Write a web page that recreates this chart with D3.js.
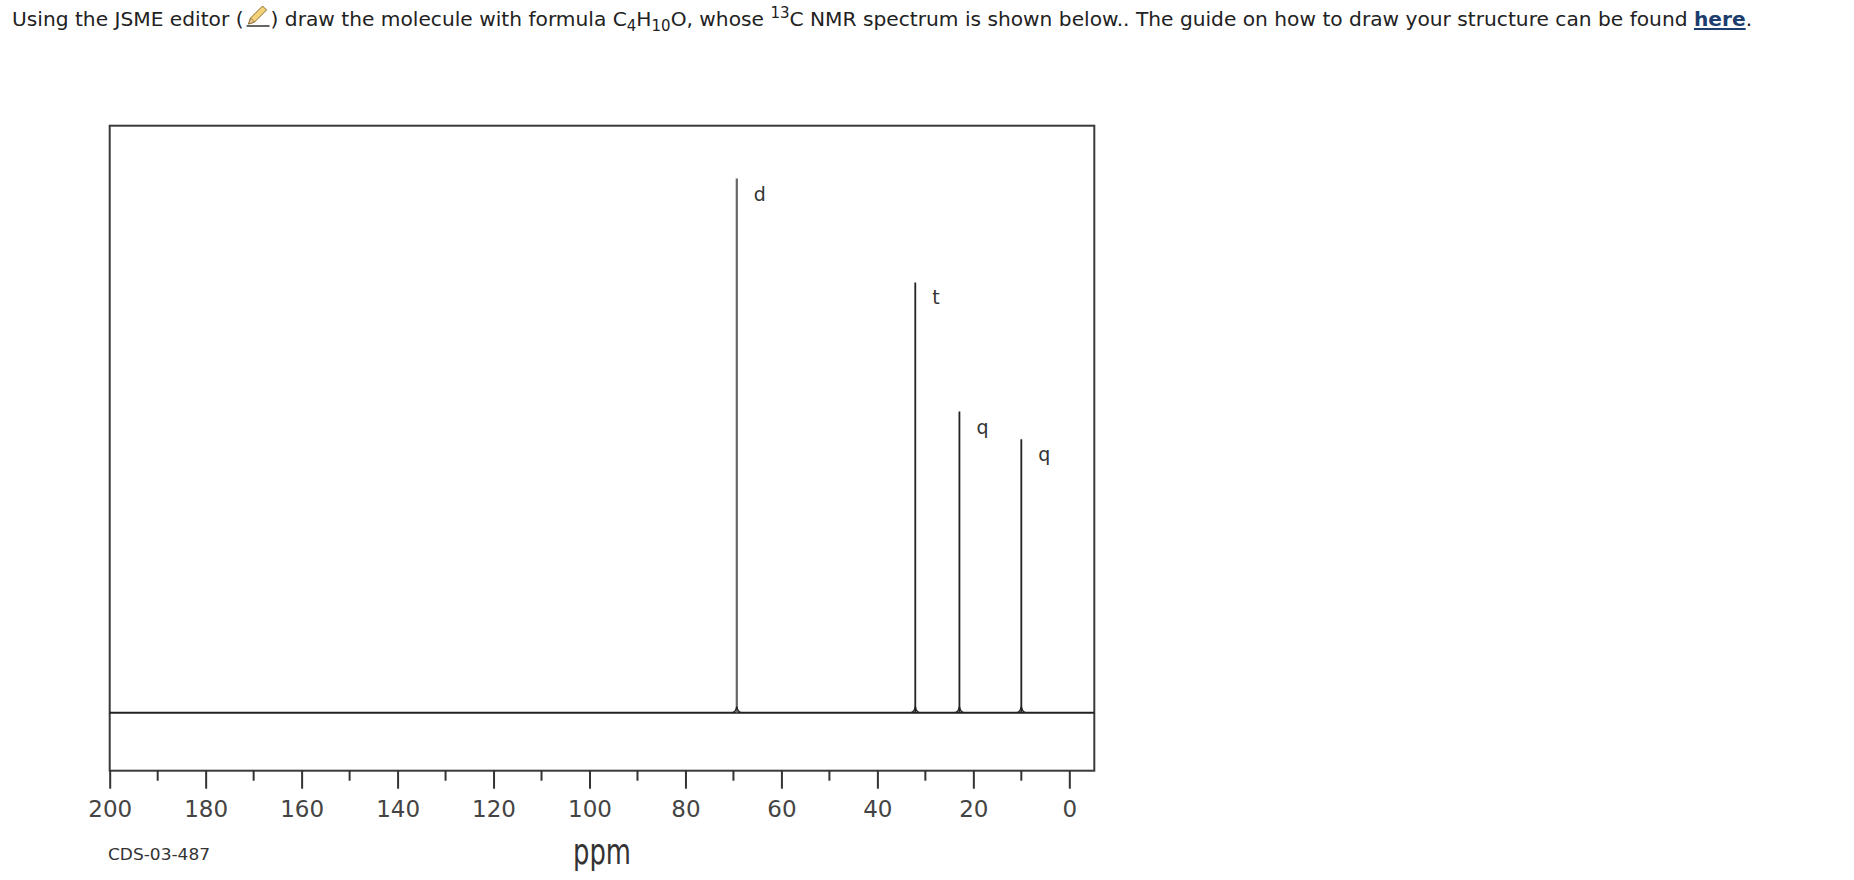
<!DOCTYPE html>
<html>
<head>
<meta charset="utf-8">
<script src="https://cdn.jsdelivr.net/npm/d3@7"></script>
<style>
  body { margin: 0; background: #fff; }
  svg { display: block; }
</style>
</head>
<body>
<div id="chart"></div>
<script>
// 13C NMR peaks (2-butanol, C4H10O)
const shifts = [69.3, 32.1, 22.9, 10.0];
const intensities = [91.0, 73.3, 51.3, 46.6];
const multiplicities = ['d', 't', 'q', 'q'];
const majorTicks = [200, 180, 160, 140, 120, 100, 80, 60, 40, 20, 0];
const minorTicks = [190, 170, 150, 130, 110, 90, 70, 50, 30, 10];
const sampleCode = 'CDS-03-487';
const axisTitle = 'ppm';

const width = 1854, height = 880;

// layout
const boxLeft = 109.7, boxRight = 1094.3, boxTop = 125.7, boxBottom = 770.7;
const baseY = 712.7;

const svg = d3.select('#chart').append('svg')
    .attr('width', width)
    .attr('height', height)
    .attr('viewBox', [0, 0, width, height]);

// header sentence
const head = svg.append('text')
    .attr('x', 12)
    .attr('y', 26)
    .attr('fill', '#222')
    .style('font', '20.2px "DejaVu Sans", Verdana, sans-serif');

head.append('tspan').text('Using the JSME editor (');
head.append('tspan').attr('dx', 27).text(') draw the molecule with formula C');
head.append('tspan').attr('dy', 5).style('font-size', '15px').text('4');
head.append('tspan').attr('dy', -5).text('H');
head.append('tspan').attr('dy', 5).style('font-size', '15px').text('10');
head.append('tspan').attr('dy', -5).text('O, whose ');
head.append('tspan').attr('dy', -8).style('font-size', '15px').text('13');
head.append('tspan').attr('dy', 8).text('C NMR spectrum is shown below.. The guide on how to draw your structure can be found ');
head.append('tspan').attr('fill', '#1d3d6e').style('font-weight', 'bold')
    .style('text-decoration', 'underline').text('here');
head.append('tspan').text('.');

// pencil icon, placed after the first piece of text
const firstLen = head.select('tspan').node().getComputedTextLength();
const pen = svg.append('g').attr('transform', `translate(${12 + firstLen + 2},5)`);
pen.append('path')
    .attr('d', 'M3,19 L5,13 L17,1 L21,5 L9,17 Z')
    .attr('fill', '#f3d27a').attr('stroke', '#8a6a2a').attr('stroke-width', 1);
pen.append('path').attr('d', 'M3,19 L5,13 L9,17 Z').attr('fill', '#e9c9a0').attr('stroke', '#8a6a2a').attr('stroke-width', 0.8);
pen.append('line').attr('x1', 1).attr('x2', 24).attr('y1', 21).attr('y2', 21)
    .attr('stroke', '#333').attr('stroke-width', 1.5);

// scales
const x = d3.scaleLinear().domain([200, 0]).range([boxLeft, 1069.3]);
const y = d3.scaleLinear().domain([0, 100]).range([baseY, boxTop]);

// frame
svg.append('rect')
    .attr('x', boxLeft).attr('y', boxTop)
    .attr('width', boxRight - boxLeft).attr('height', boxBottom - boxTop)
    .attr('fill', 'none').attr('stroke', '#3a3a3a').attr('stroke-width', 2);

// baseline
svg.append('line')
    .attr('x1', boxLeft).attr('x2', boxRight)
    .attr('y1', y(0)).attr('y2', y(0))
    .attr('stroke', '#222').attr('stroke-width', 2);

// axis
const axisG = svg.append('g').attr('transform', `translate(0,${boxBottom})`);
axisG.call(d3.axisBottom(x).tickValues(majorTicks).tickSize(18).tickPadding(12).tickFormat(d3.format('d')));
axisG.select('.domain').remove();
axisG.selectAll('.tick line').attr('stroke', '#333').attr('stroke-width', 2);
axisG.selectAll('.tick text')
    .attr('fill', '#444')
    .style('font', '23px "DejaVu Sans", Verdana, sans-serif');

svg.append('g').selectAll('line')
    .data(minorTicks)
    .join('line')
    .attr('x1', d => x(d)).attr('x2', d => x(d))
    .attr('y1', boxBottom).attr('y2', boxBottom + 10)
    .attr('stroke', '#333').attr('stroke-width', 2);

// peaks
const peaks = shifts.map((s, i) => ({ ppm: s, h: intensities[i], m: multiplicities[i] }));

const pg = svg.append('g').selectAll('g')
    .data(peaks)
    .join('g');

pg.append('line')
    .attr('x1', d => x(d.ppm)).attr('x2', d => x(d.ppm))
    .attr('y1', y(0)).attr('y2', d => y(d.h))
    .attr('stroke', (d, i) => i === 0 ? '#666' : '#222')
    .attr('stroke-width', (d, i) => i === 0 ? 2.2 : 1.8);

// small foot at the base of each line
pg.append('path')
    .attr('d', d => `M${x(d.ppm) - 4},${y(0)} Q${x(d.ppm) - 1},${y(0) - 1} ${x(d.ppm)},${y(0) - 6} Q${x(d.ppm) + 1},${y(0) - 1} ${x(d.ppm) + 4},${y(0)}`)
    .attr('fill', 'none').attr('stroke', '#222').attr('stroke-width', 1.4);

pg.append('text')
    .attr('x', d => x(d.ppm) + 17)
    .attr('y', d => y(d.h) + 22)
    .attr('fill', '#333')
    .style('font', '19px "DejaVu Sans", Verdana, sans-serif')
    .text(d => d.m);

// captions
svg.append('text')
    .attr('x', 108).attr('y', 860)
    .attr('fill', '#333')
    .attr('textLength', 102).attr('lengthAdjust', 'spacingAndGlyphs')
    .style('font', '15px "DejaVu Sans", Verdana, sans-serif')
    .text(sampleCode);

svg.append('text')
    .attr('x', 573).attr('y', 864)
    .attr('fill', '#333')
    .attr('textLength', 58).attr('lengthAdjust', 'spacingAndGlyphs')
    .style('font', '35px "DejaVu Sans", sans-serif')
    .text(axisTitle);
</script>
</body>
</html>
